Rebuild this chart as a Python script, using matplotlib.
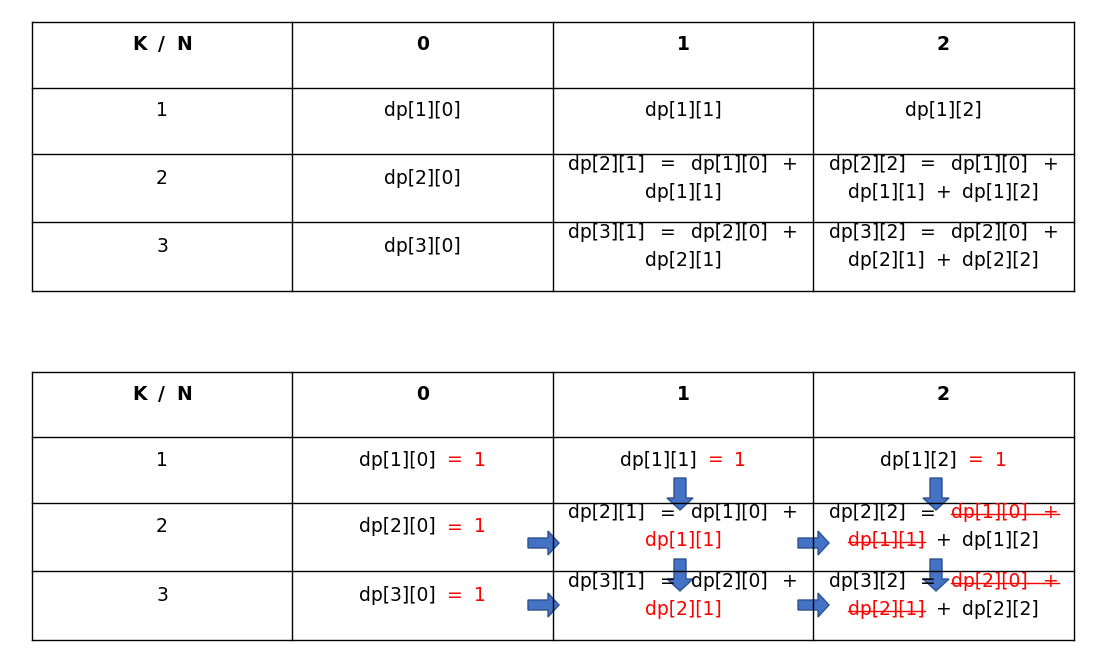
import matplotlib.pyplot as plt
from matplotlib.patches import FancyArrow

plt.rcParams['font.family'] = ['DejaVu Sans']

headers = ['K / N', '0', '1', '2']
row_k = ['1', '2', '3']

# top table: plain text, each cell a list of lines
top_cells = [
    [['dp[1][0]'], ['dp[1][1]'], ['dp[1][2]']],
    [['dp[2][0]'], ['dp[2][1] = dp[1][0] +', 'dp[1][1]'], ['dp[2][2] = dp[1][0] +', 'dp[1][1] + dp[1][2]']],
    [['dp[3][0]'], ['dp[3][1] = dp[2][0] +', 'dp[2][1]'], ['dp[3][2] = dp[2][0] +', 'dp[2][1] + dp[2][2]']],
]

# bottom table: runs of (text, colour, struck)
K, R = 'black', 'red'
bot_cells = [
    [[[('dp[1][0]', K, 0), ('=', R, 0), ('1', R, 0)]],
     [[('dp[1][1]', K, 0), ('=', R, 0), ('1', R, 0)]],
     [[('dp[1][2]', K, 0), ('=', R, 0), ('1', R, 0)]]],
    [[[('dp[2][0]', K, 0), ('=', R, 0), ('1', R, 0)]],
     [[('dp[2][1]', K, 0), ('=', K, 0), ('dp[1][0]', K, 0), ('+', K, 0)], [('dp[1][1]', R, 0)]],
     [[('dp[2][2]', K, 0), ('=', K, 0), ('dp[1][0]', R, 1), ('+', R, 1)], [('dp[1][1]', R, 1), ('+', K, 0), ('dp[1][2]', K, 0)]]],
    [[[('dp[3][0]', K, 0), ('=', R, 0), ('1', R, 0)]],
     [[('dp[3][1]', K, 0), ('=', K, 0), ('dp[2][0]', K, 0), ('+', K, 0)], [('dp[2][1]', R, 0)]],
     [[('dp[3][2]', K, 0), ('=', K, 0), ('dp[2][0]', R, 1), ('+', R, 1)], [('dp[2][1]', R, 1), ('+', K, 0), ('dp[2][2]', K, 0)]]],
]

col_x = [32, 292, 553, 813, 1074]
top_y = [22, 88, 154, 222, 291]
bot_y = [372, 437, 503, 571, 640]

fig = plt.figure(figsize=(11.06, 6.6), dpi=100)
ax = fig.add_axes([0, 0, 1, 1])
ax.set_xlim(0, 1106)
ax.set_ylim(660, 0)
ax.axis('off')
rend = fig.canvas.get_renderer()
FS = 13.5
GAP = 11
JW = 230


def grid(ys):
    for y in ys:
        ax.plot([col_x[0], col_x[-1]], [y, y], color='black', lw=1)
    for x in col_x:
        ax.plot([x, x], [ys[0], ys[-1]], color='black', lw=1)


def text_w(s, bold=False):
    t = ax.text(0, 0, s, fontsize=FS, fontweight='bold' if bold else 'normal')
    bb = t.get_window_extent(rend)
    t.remove()
    return bb.width


def words_line(cx, y, words, justify, bold=False):
    # words: list of (text, colour, struck)
    ws = [text_w(s, bold) for s, _, _ in words]
    if justify and len(words) > 1:
        gap = (JW - sum(ws)) / (len(words) - 1)
        x = cx - JW / 2
    else:
        gap = GAP
        x = cx - (sum(ws) + gap * (len(words) - 1)) / 2
    prev_st = False
    for (s, c, st), w in zip(words, ws):
        if st and prev_st:
            ax.plot([x - gap, x], [y + 1, y + 1], color=c, lw=1)
        ax.text(x, y, s, fontsize=FS, color=c, va='center', ha='left',
                fontweight='bold' if bold else 'normal')
        if st:
            ax.plot([x, x + w], [y + 1, y + 1], color=c, lw=1)
        prev_st = st
        x += w + gap


def cell_lines(cx, y0, y1, lines, bold=False):
    n = len(lines)
    mid = (y0 + y1) / 2
    for i, ln in enumerate(lines):
        y = mid + (i - (n - 1) / 2) * 28 - 10
        if isinstance(ln, str):
            ln = [(s, K, 0) for s in ln.split(' ')]
        words_line(cx, y, ln, justify=(n > 1 and i == 0), bold=bold)


for ys, cells in [(top_y, top_cells), (bot_y, bot_cells)]:
    grid(ys)
    for j, h in enumerate(headers):
        cell_lines((col_x[j] + col_x[j + 1]) / 2, ys[0], ys[1], [h], bold=True)
    for i, k in enumerate(row_k):
        cell_lines((col_x[0] + col_x[1]) / 2, ys[i + 1], ys[i + 2], [k])
        for j in range(3):
            cell_lines((col_x[j + 1] + col_x[j + 2]) / 2, ys[i + 1], ys[i + 2], cells[i][j])

blue = '#4472C4'
for x in [528, 798]:
    for y in [543, 605]:
        ax.add_patch(FancyArrow(x, y, 20, 0, width=10, head_width=24, head_length=11,
                                length_includes_head=False, fc=blue, ec='#2F528F', lw=1))
for x in [680, 936]:
    for y in [478, 559]:
        ax.add_patch(FancyArrow(x, y, 0, 20, width=12, head_width=26, head_length=12,
                                length_includes_head=False, fc=blue, ec='#2F528F', lw=1))

fig.savefig('out.png', dpi=100)
